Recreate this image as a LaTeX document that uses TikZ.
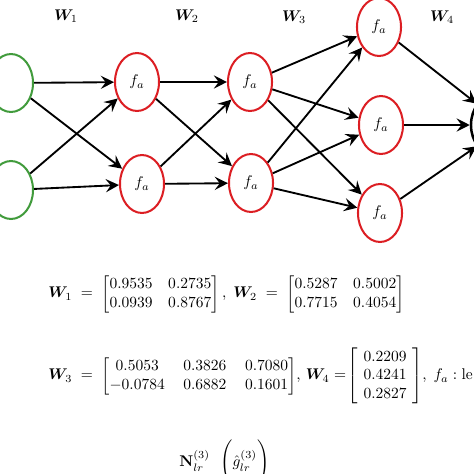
\documentclass[tikz,border=0pt]{standalone}
\usepackage{amsmath}
\usepackage{bm}
\usetikzlibrary{arrows.meta,shapes.geometric}
\definecolor{ingreen}{RGB}{65,155,60}
\definecolor{nodered}{RGB}{220,30,35}
\newcommand{\myeq}{\mathrel{\mkern5mu=\mkern5mu}}
\begin{document}
\begin{tikzpicture}[x=0.645pt,y=-0.645pt,
  neuron/.style={ellipse,draw=nodered,line width=1.3pt,minimum width=28.4pt,minimum height=37.4pt,inner sep=0pt},
  inneuron/.style={neuron,draw=ingreen},
  outneuron/.style={neuron,draw=black,line width=1.6pt},
  conn/.style={line width=1.2pt,-{Stealth[length=8.5pt,width=8.5pt,inset=3.2pt]}},
  lbl/.style={inner sep=0pt}]
\useasboundingbox (0,0) rectangle (474,474);
\clip (0,0) rectangle (474,474);
\node[inneuron] (i1) at (11,83) {};
\node[inneuron] (i2) at (11,190) {};
\node[neuron] (h1) at (137,82) {$f_a$};
\node[neuron] (h2) at (142,184) {$f_a$};
\node[neuron] (g1) at (250,82) {$f_a$};
\node[neuron] (g2) at (251,183) {$f_a$};
\node[neuron] (k1) at (379,27) {$f_a$};
\node[neuron] (k2) at (381,125) {$f_a$};
\node[neuron] (k3) at (380,213) {$f_a$};
\node[outneuron] (out) at (493,125) {};
\foreach \a in {i1,i2}{\foreach \b in {h1,h2}{\draw[conn] (\a) -- (\b);}}
\foreach \a in {h1,h2}{\foreach \b in {g1,g2}{\draw[conn] (\a) -- (\b);}}
\foreach \a in {g1,g2}{\foreach \b in {k1,k2,k3}{\draw[conn] (\a) -- (\b);}}
\draw[conn] (k1) -- (out.north west);
\draw[conn] (k2) -- (out);
\draw[conn] (k3) -- (out.south west);
\node[lbl] (l1) at (66,16) {$\bm{W}_1$};
\node[lbl] (l2) at (187,16) {$\bm{W}_2$};
\node[lbl] (l3) at (294,17) {$\bm{W}_3$};
\node[lbl] (l4) at (442,17) {$\bm{W}_4$};
\node[lbl,anchor=west] (e1) at (48,294) {$\bm{W}_1\myeq\begin{bmatrix}0.9535 & 0.2735\\ 0.0939 & 0.8767\end{bmatrix},\;\bm{W}_2\myeq\begin{bmatrix}0.5287 & 0.5002\\ 0.7715 & 0.4054\end{bmatrix}$};
\node[lbl,anchor=west] (e2) at (48,376) {$\bm{W}_3\myeq{\setlength{\arraycolsep}{6pt}\begin{bmatrix}0.5053 & 0.3826 & 0.7080\\ -0.0784 & 0.6882 & 0.1601\end{bmatrix}},\,\bm{W}_4=\!{\setlength{\arraycolsep}{3.5pt}\left[\begin{array}{c}0.2209\\ 0.4241\\ 0.2827\end{array}\right]},\; f_a : \text{le}$};
\node[lbl,anchor=west] (e3) at (179,463) {$\mathbf{N}_{lr}^{(3)}\ \ \Bigg(\hat{g}_{lr}^{(3)}\Bigg)$};
\end{tikzpicture}
\end{document}
